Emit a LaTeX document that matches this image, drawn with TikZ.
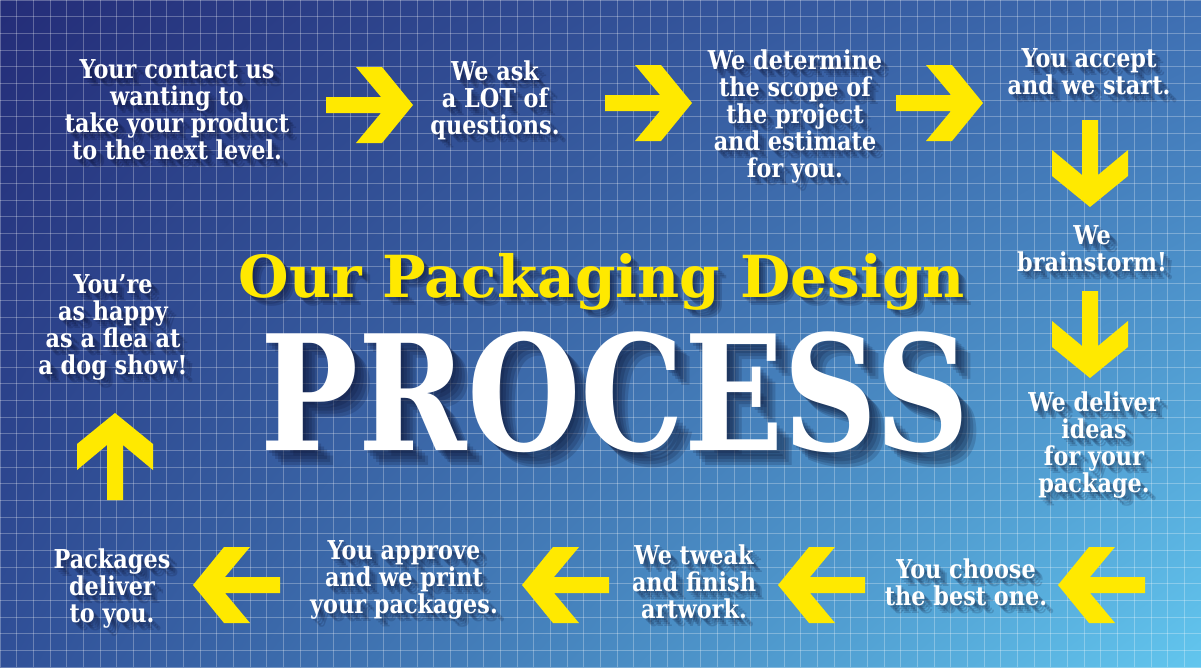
\documentclass[tikz,border=0pt]{standalone}
\usepackage{fontspec}
\usepackage{tikz}
\usetikzlibrary{shadings}
\newfontfamily\slab{DejaVu Serif}[FakeStretch=0.86]
\newfontfamily\slabwide{DejaVu Serif}
\newfontfamily\slabnarrow{DejaVu Serif}[FakeStretch=0.815]

\definecolor{padyellow}{RGB}{255,233,0}
\definecolor{bgnavy}{RGB}{36,45,120}
\definecolor{bgright}{RGB}{62,110,178}
\definecolor{bgleft}{RGB}{48,80,152}
\definecolor{bgcyan}{RGB}{98,198,238}
\definecolor{shadowblue}{RGB}{6,10,38}

\newcommand{\softtext}[5][2,4,6,8]{%
  \foreach \off in {#1}
    \node[#3, text=shadowblue, opacity=0.16, xshift=\off pt, yshift=-\off pt] at (#4) {#5};
  \node[#3] (#2) at (#4) {#5};}

\begin{document}
\begin{tikzpicture}
  [x=1pt, y=-1pt,
   steptext/.style = {text=white, align=center, inner sep=0pt, font=\slab\bfseries\fontsize{26}{27}\selectfont},
   titletext/.style = {text=padyellow, inner sep=0pt, font=\slabwide\bfseries\fontsize{58}{60}\selectfont},
   bigtext/.style = {text=white, inner sep=0pt, font=\slabnarrow\bfseries\fontsize{160}{160}\selectfont},
   gridline/.style = {white, opacity=.28, line width=.8pt},
   bigarrow/.pic = {\fill[padyellow] (0,0) -- (-31,38) -- (-57,38) -- (-32,8) -- (-87,8)
      -- (-87,-8) -- (-32,-8) -- (-57,-38) -- (-31,-38) -- cycle;}]
  \useasboundingbox (0,0) rectangle (1201,667);
  \shade[upper left=bgnavy, upper right=bgright, lower left=bgleft, lower right=bgcyan]
    (0,0) rectangle (1201,667);
  \foreach \i in {0,...,72}
    \draw[gridline] (\i*16.68,0) -- (\i*16.68,667);
  \foreach \j in {0,...,40}
    \draw[gridline] (0,\j*16.68) -- (1201,\j*16.68);

  \softtext{contact}{steptext}{177,110}{Your contact us\\wanting to\\take your product\\to the next level.}
  \softtext{ask}{steptext}{495,100}{We ask\\a LOT of\\questions.}
  \softtext{scope}{steptext}{795,117}{We determine\\the scope of\\the project\\and estimate\\for you.}
  \softtext{accept}{steptext}{1089,72}{You accept\\and we start.}
  \softtext{brainstorm}{steptext}{1092,249}{We\\brainstorm!}
  \softtext{ideas}{steptext}{1094,445}{We deliver\\ideas\\for your\\package.}
  \softtext{choose}{steptext}{966,582}{You choose\\the best one.}
  \softtext{tweak}{steptext}{694,582}{We tweak\\and finish\\artwork.}
  \softtext{approve}{steptext}{404,580}{You approve\\and we print\\your packages.}
  \softtext{deliver}{steptext}{112,588}{Packages\\deliver\\to you.}
  \softtext{happy}{steptext}{113,327}{You’re\\as happy\\as a flea at\\a dog show!}
  \softtext{title}{titletext}{602,282}{Our Packaging Design}
  \softtext[3,6,9,12,15]{process}{bigtext}{615,392}{PROCESS}

  \foreach \x/\y/\a in {413/105/0, 692/103/0, 983/103/0, 1090/207/-90, 1090/378/-90,
                        1058/585/180, 778/585/180, 522/585/180, 193/585/180, 115/413/90}
    \pic[rotate=\a] at (\x,\y) {bigarrow};
\end{tikzpicture}
\end{document}
